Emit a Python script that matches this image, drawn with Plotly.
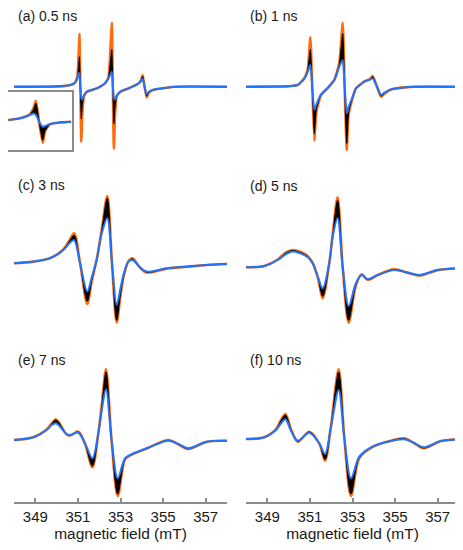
import plotly.graph_objects as go

# EPR spectra, intensity in arbitrary units (0 = baseline)
# each panel: field (mT), outer orange curve, black band edge, blue curve

field_a = [348.0, 350.0, 350.6, 350.85, 350.97, 351.03, 351.07, 351.115, 351.16, 351.2, 351.28,
           351.41, 351.88, 352.27, 352.43, 352.52, 352.59, 352.64, 352.69, 352.74, 352.82,
           352.98, 353.45, 353.84, 353.96, 354.04, 354.13, 354.23, 354.33, 354.54, 355.17,
           355.6, 358.0]
orange_a = [0, 0.3, 1.5, 3.8, 10, 30, 53, 0, -55, -30, -10, -5.2, -1.7, 3.4, 9, 35, 64, 0,
            -62, -30, -10, -5.2, -1, 3.2, 6.5, 11.7, 0, -10.7, -6, -3.2, -1, 0, 0]
black_a = [0, 0.3, 1.5, 3.6, 9, 20, 30, 0, -32, -20, -9.5, -5.1, -1.7, 3.3, 8.6, 24, 37, 0,
           -37, -21, -9.5, -5.1, -1, 3.1, 6, 10.5, 0, -9.5, -5.5, -3.1, -1, 0, 0]
blue_a = [0, 0.3, 1.5, 3.5, 8, 14, 12, 0, -11, -13, -9, -5, -1.7, 3.3, 8.3, 12, 15, 0,
          -11, -13, -9, -5, -1, 3, 5.5, 8, 0, -7.7, -5, -3, -1, 0, 0]

field_b = [348.0, 350.0, 350.43, 350.74, 350.9, 351.02, 351.11, 351.21, 351.3, 351.52, 351.83,
           352.15, 352.38, 352.54, 352.63, 352.73, 352.82, 353.01, 353.16, 353.56, 353.8,
           353.95, 354.15, 354.34, 354.5, 354.81, 355.43, 355.95, 358.0]
orange_b = [0, 0.5, 1.8, 8.5, 18, 49.3, 0, -54, -26, -8.5, -1.5, 7, 24, 64, 0, -63.3, -28,
            -11, -1.7, 5.3, 7.5, 10.7, 0, -10, -7, -2.8, -0.7, 0, 0]
black_b = [0, 0.5, 1.75, 8.3, 17, 37, 0, -46.7, -23, -8.3, -1.5, 6.9, 22.5, 53, 0, -56.7, -25,
           -10.5, -1.7, 5.2, 7.3, 10, 0, -9.5, -6.7, -2.8, -0.7, 0, 0]
blue_b = [0, 0.5, 1.7, 8, 15, 21.7, 0, -23.3, -18, -8, -1.5, 6.7, 20, 26.7, 0, -26.7, -20,
          -10, -1.7, 5, 7, 8.3, 0, -8.3, -6, -2.7, -0.7, 0, 0]

field_c = [348.0, 348.91, 349.69, 350.32, 350.6, 350.82, 351.1, 351.44, 351.65, 351.88, 352.12,
           352.38, 352.6, 352.82, 353.0, 353.16, 353.37, 353.56, 353.92, 354.23, 355.17,
           356.11, 357.05, 358.0]
orange_c = [0, 1.7, 5.2, 14, 23, 30, 0.5, -40.7, -18, 3.5, 34, 67.3, 0, -59.3, -32, -12, 1.8,
            5, -4.5, -9.3, -5.3, -3.4, -1.7, -0.7]
black_c = [0, 1.7, 5.1, 13.8, 22, 28, 0.3, -38, -17, 3.4, 33, 65, 0, -57, -31, -11.5, 1.8,
           4.5, -4.3, -9, -5.2, -3.4, -1.7, -0.7]
blue_c = [0, 1.7, 5, 13.3, 20, 23.3, 0, -28.3, -14, 3.3, 30, 45, 0, -41.7, -25, -10, 1.7,
          3.3, -4, -8.3, -5, -3.3, -1.7, -0.7]

field_d = [348.0, 348.86, 349.49, 349.88, 350.19, 350.54, 350.9, 351.13, 351.37, 351.6, 351.91,
           352.07, 352.3, 352.54, 352.82, 353.16, 353.43, 353.71, 354.18, 354.96, 355.59,
           356.14, 357.0, 358.0]
orange_d = [0, 1.4, 7.8, 15, 17.3, 15.5, 11.2, 4.5, -10, -31, 4.5, 33, 70, 0, -55.3, -18, -7,
            -12.5, -7.8, -2, -5.5, -8.3, -2.8, -1]
black_d = [0, 1.35, 7.6, 14.5, 16.8, 15, 10.8, 4.3, -9.8, -29, 4.3, 32, 67, 0, -53, -17.5,
           -7.3, -12.3, -7.8, -2.3, -5.4, -8, -2.8, -1]
blue_d = [0, 1.3, 7.3, 13.3, 15.7, 14, 10, 4, -9.3, -21, 4, 30.7, 49, 0, -38.7, -16, -7.7,
          -12, -7.7, -2.7, -5.3, -7.7, -2.7, -1]

field_e = [348.0, 348.91, 349.53, 349.75, 349.97, 350.47, 350.63, 351.02, 351.33, 351.68,
           351.96, 352.12, 352.32, 352.58, 352.87, 353.21, 353.45, 354.23, 355.25, 355.71,
           356.18, 357.05, 358.0]
orange_e = [0, 2.8, 10.5, 16, 20.7, 5.5, 4.5, 8.3, -3.5, -27.3, 7, 35, 70.7, 0, -56, -19.5,
            -15.5, -8.5, 0, -4.3, -9, -1.8, -0.7]
black_e = [0, 2.75, 10.3, 15.5, 20, 5.7, 4.7, 8, -3.4, -26, 6.9, 34, 68, 0, -54, -19.2,
           -15.3, -8.4, -0.3, -4.2, -8.8, -1.8, -0.7]
blue_e = [0, 2.7, 10, 14.5, 16.7, 6, 5, 7.3, -3.3, -18.3, 6.7, 30, 50.7, 0, -38.3, -18.3,
          -15, -8.3, -0.7, -4, -8.3, -1.7, -0.7]

field_f = [348.0, 348.86, 349.41, 349.62, 349.85, 350.11, 350.43, 350.97, 351.44, 351.71,
           351.99, 352.35, 352.62, 352.93, 353.32, 353.87, 354.65, 355.43, 355.9, 356.34,
           357.15, 358.0]
orange_f = [0, 1.8, 9.8, 18, 25, 10, -2.7, 7.3, -4.6, -21.7, 13, 69.7, 0, -57, -19, -8.8,
            -2.6, 0.7, -4.3, -9.3, -2.1, -0.3]
black_f = [0, 1.75, 9.5, 17.5, 24, 9.5, -2.4, 7, -4.5, -20.5, 12.7, 67, 0, -55, -18.6, -8.6,
           -2.6, 0.3, -4.2, -9, -2.1, -0.3]
blue_f = [0, 1.7, 9, 15, 19.7, 8.3, -1.7, 6.3, -4.3, -15, 12, 49, 0, -39.3, -17.7, -8.3,
          -2.7, -0.3, -4, -8.3, -2, -0.3]

# inset of panel (a): close-up of the high-field line
field_in = [353.41, 353.66, 353.88, 353.96, 354.01, 354.08, 354.16, 354.21, 354.32, 354.54, 354.78]
orange_in = [1.7, 3.5, 7.5, 14, 21, 0, -21, -10, -2.6, -0.7, 0]
black_in = [1.7, 3.4, 7.2, 12.5, 18.5, 0, -18.5, -9, -2.5, -0.7, 0]
blue_in = [1.7, 3.3, 6.7, 8.3, 7, 0, -5, -4.3, -2.3, -0.7, 0]

labels = ["(a) 0.5 ns", "(b) 1 ns", "(c) 3 ns", "(d) 5 ns", "(e) 7 ns", "(f) 10 ns"]
ticks = [349, 351, 353, 355, 357]

ORANGE = "#ff6a0a"
BLACK = "#000000"
BLUE = "#1f75ff"
GRAY = "#8c8c8c"
TXT = "#1a1a1a"
FONT = "Liberation Sans, Arial, sans-serif"

fig = go.Figure()


def add_spectrum(field, orange, black, blue, ax, smooth):
    xa, ya = "x" + ax, "y" + ax
    common = dict(x=field, xaxis=xa, yaxis=ya, mode="lines", hoverinfo="skip",
                  showlegend=False)
    sp = dict(shape="spline", smoothing=smooth)
    fig.add_trace(go.Scatter(y=blue, line=dict(width=0, color=BLUE, **sp), **common))
    fig.add_trace(go.Scatter(y=orange, fill="tonexty", fillcolor=ORANGE,
                             line=dict(width=2.6, color=ORANGE, **sp), **common))
    fig.add_trace(go.Scatter(y=blue, line=dict(width=0, color=BLUE, **sp), **common))
    fig.add_trace(go.Scatter(y=black, fill="tonexty", fillcolor=BLACK,
                             line=dict(width=1, color=BLACK, **sp), **common))
    fig.add_trace(go.Scatter(y=blue, line=dict(width=2, color=BLUE, **sp), **common))


panels = [
    (field_a, orange_a, black_a, blue_a, 0.5),
    (field_b, orange_b, black_b, blue_b, 0.5),
    (field_c, orange_c, black_c, blue_c, 0.9),
    (field_d, orange_d, black_d, blue_d, 0.9),
    (field_e, orange_e, black_e, blue_e, 0.9),
    (field_f, orange_f, black_f, blue_f, 0.9),
]
for i, (fx, fo, fk, fb, sm) in enumerate(panels):
    add_spectrum(fx, fo, fk, fb, str(i + 1), sm)
add_spectrum(field_in, orange_in, black_in, blue_in, "7", 0.6)

# the page body adds an 8 px margin, so the figure is drawn 8 px in from the window corner
OFF = 8
W, H, B = 463 - OFF, 550 - OFF, 48
PH = H - B


def xdom(l, r):
    return [(l - OFF) / W, (r - OFF) / W]


def ydom(t, b):
    return [1 - (b - OFF) / PH, 1 - (t - OFF) / PH]


col_dom = [xdom(14, 227), xdom(246, 459)]
row_dom = [ydom(18, 155), ydom(190, 330), ydom(365, 502)]
y_ranges = [[-68.3, 68.7], [-68.3, 68.7], [-66.7, 73.3], [-62.7, 77.3], [-62, 75], [-63, 74]]

layout = dict(width=W, height=H, margin=dict(l=0, r=0, t=0, b=B),
              paper_bgcolor="white", plot_bgcolor="white", showlegend=False,
              font=dict(family=FONT, size=14, color=TXT))

for i in range(6):
    n = str(i + 1)
    row, col = divmod(i, 2)
    key = "" if i == 0 else n
    xa = dict(domain=col_dom[col], range=[348, 358], anchor="y" + n,
              showgrid=False, zeroline=False, fixedrange=True)
    if row == 2:
        xa.update(showline=True, linecolor=GRAY, linewidth=1.5, ticks="inside",
                  ticklen=4, tickwidth=1.5, tickcolor=GRAY, tickvals=ticks,
                  tickfont=dict(size=15, color=TXT),
                  title=dict(text="magnetic field (mT)", font=dict(size=15.5, color=TXT),
                             standoff=2))
    else:
        xa.update(visible=False)
    layout["xaxis" + key] = xa
    layout["yaxis" + key] = dict(domain=row_dom[row], range=y_ranges[i], anchor="x" + n,
                                 visible=False, fixedrange=True)

# inset box
layout["xaxis7"] = dict(domain=xdom(8, 72), range=[353.4, 354.8], anchor="y7",
                        showline=True, mirror=True, linecolor=GRAY, linewidth=1.5,
                        showticklabels=False, ticks="", showgrid=False, zeroline=False)
layout["yaxis7"] = dict(domain=ydom(92, 150), range=[-28.3, 29.7], anchor="x7",
                        showline=True, mirror=True, linecolor=GRAY, linewidth=1.5,
                        showticklabels=False, ticks="", showgrid=False, zeroline=False)

label_pos = [(17, 15.5), (249, 15.5), (17, 185), (249, 186), (17, 360), (249, 360)]
layout["annotations"] = [
    dict(text=t, x=(px - OFF) / W, y=1 - (py - OFF) / PH, xref="paper", yref="paper",
         xanchor="left", yanchor="middle", showarrow=False, borderpad=0,
         font=dict(size=14, color=TXT))
    for t, (px, py) in zip(labels, label_pos)
]

fig.update_layout(**layout)
fig.write_html("out.html")
